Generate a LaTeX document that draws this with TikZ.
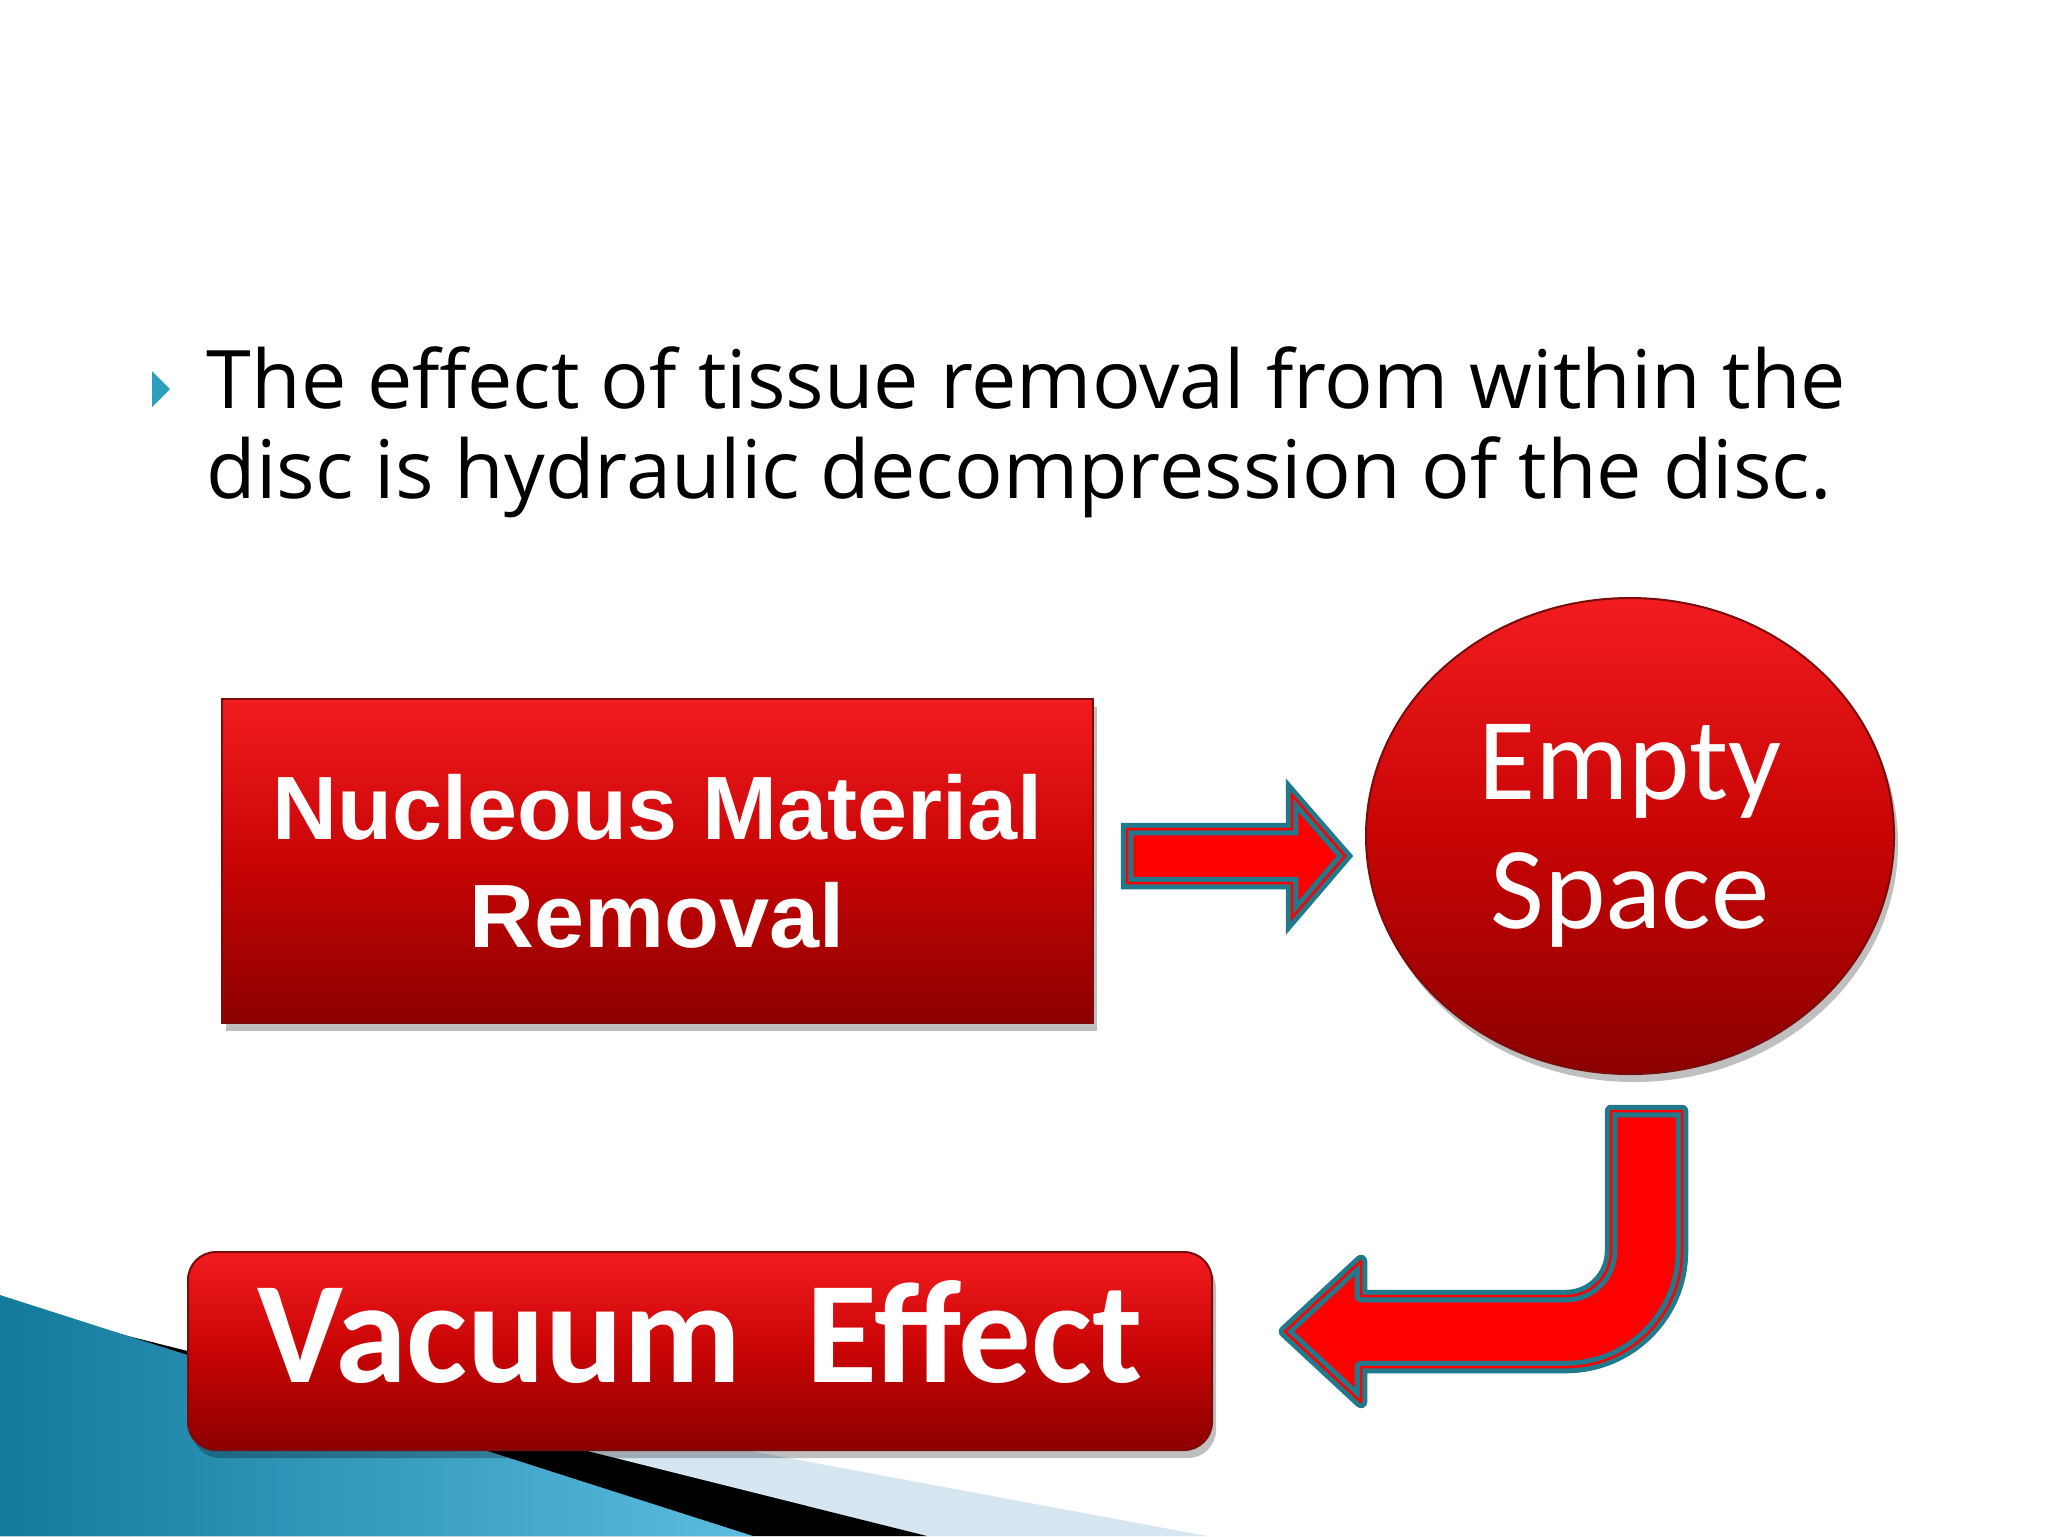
\documentclass[tikz,border=0pt]{standalone}
\usepackage{fontspec}
\setmainfont{Open Sans}
\newfontfamily\arialfont{Liberation Sans}
\newfontfamily\califont{Carlito}
\usetikzlibrary{shapes.geometric,shadows}
\definecolor{bul}{HTML}{2C9FBF}
\definecolor{arrteal}{HTML}{217A8C}
\definecolor{rtop}{HTML}{F21C20}
\definecolor{rmid}{HTML}{C80404}
\definecolor{rbot}{HTML}{8C0000}
\definecolor{rline}{HTML}{7A0C0C}
\definecolor{tealA}{HTML}{137A9C}
\definecolor{tealB}{HTML}{5BBDE0}
\definecolor{band}{HTML}{D6E6F0}
\begin{document}
\begin{tikzpicture}[x=0.1mm,y=-0.1mm,
  bodytext/.style={anchor=base west,inner sep=0pt,font=\fontsize{23pt}{28pt}\selectfont},
  softshadow/.style={drop shadow={shadow xshift=0.4mm,shadow yshift=-0.8mm,opacity=0.25,fill=black}},
  redbox/.style={draw=rline,line width=0.2mm,top color=rtop,bottom color=rbot,middle color=rmid,softshadow,text=white,inner sep=0pt},
  blockarrow/.style={draw=arrteal,double=red,line width=0.5mm,double distance=0.25mm,fill=red}
]
\useasboundingbox (0,0) rectangle (2048,1536);
\fill[white] (0,0) rectangle (2048,1536);
% background decoration
\fill[band] (300,1367) -- (1207,1536) -- (0,1536) -- cycle;
\fill[black] (60,1319) -- (927,1536) -- (0,1536) -- cycle;
\shade[left color=tealA,right color=tealB] (0,1295) -- (753,1536) -- (0,1536) -- cycle;
% bullet and text
\fill[bul] (152,371) -- (170,389) -- (152,407) -- cycle;
\node[bodytext] (b1) at (206,408) {The effect of tissue removal from within the};
\node[bodytext] (b2) at (206,498) {disc is hydraulic decompression of the disc.};
% nucleous box
\node[redbox,rectangle,minimum width=87.1mm,minimum height=32.4mm,align=center,
  font=\arialfont\bfseries\fontsize{25.6pt}{30.7pt}\selectfont]
  (nmr) at (657.5,861) {Nucleous Material\\Removal};
% empty space ellipse
\node[redbox,ellipse,minimum width=52.8mm,minimum height=47.6mm,align=center,
  font=\califont\fontsize{33.3pt}{36.7pt}\selectfont]
  (es) at (1630,836) {Empty\\Space};
% vacuum effect box
\node[redbox,rectangle,rounded corners=2.8mm,minimum width=102.4mm,minimum height=19.8mm,
  font=\califont\bfseries\fontsize{41.3pt}{48pt}\selectfont,text height=9.4mm,text depth=3.2mm]
  (ve) at (700,1351) {Vacuum\ \ Effect};
% straight block arrow
\draw[blockarrow] (1127,829) -- (1292,829) -- (1292,795) -- (1345,856) -- (1292,918)
  -- (1292,883) -- (1127,883) -- cycle;
% bent block arrow
\draw[blockarrow,line join=round] (1611,1111) -- (1682,1111) -- (1682,1251)
  .. controls (1682,1315) and (1630,1367) .. (1566,1367)
  -- (1361,1367) -- (1361,1402) -- (1285,1331.5) -- (1361,1261) -- (1361,1296)
  -- (1566,1296) .. controls (1591,1296) and (1611,1276) .. (1611,1251) -- cycle;
\end{tikzpicture}
\end{document}
